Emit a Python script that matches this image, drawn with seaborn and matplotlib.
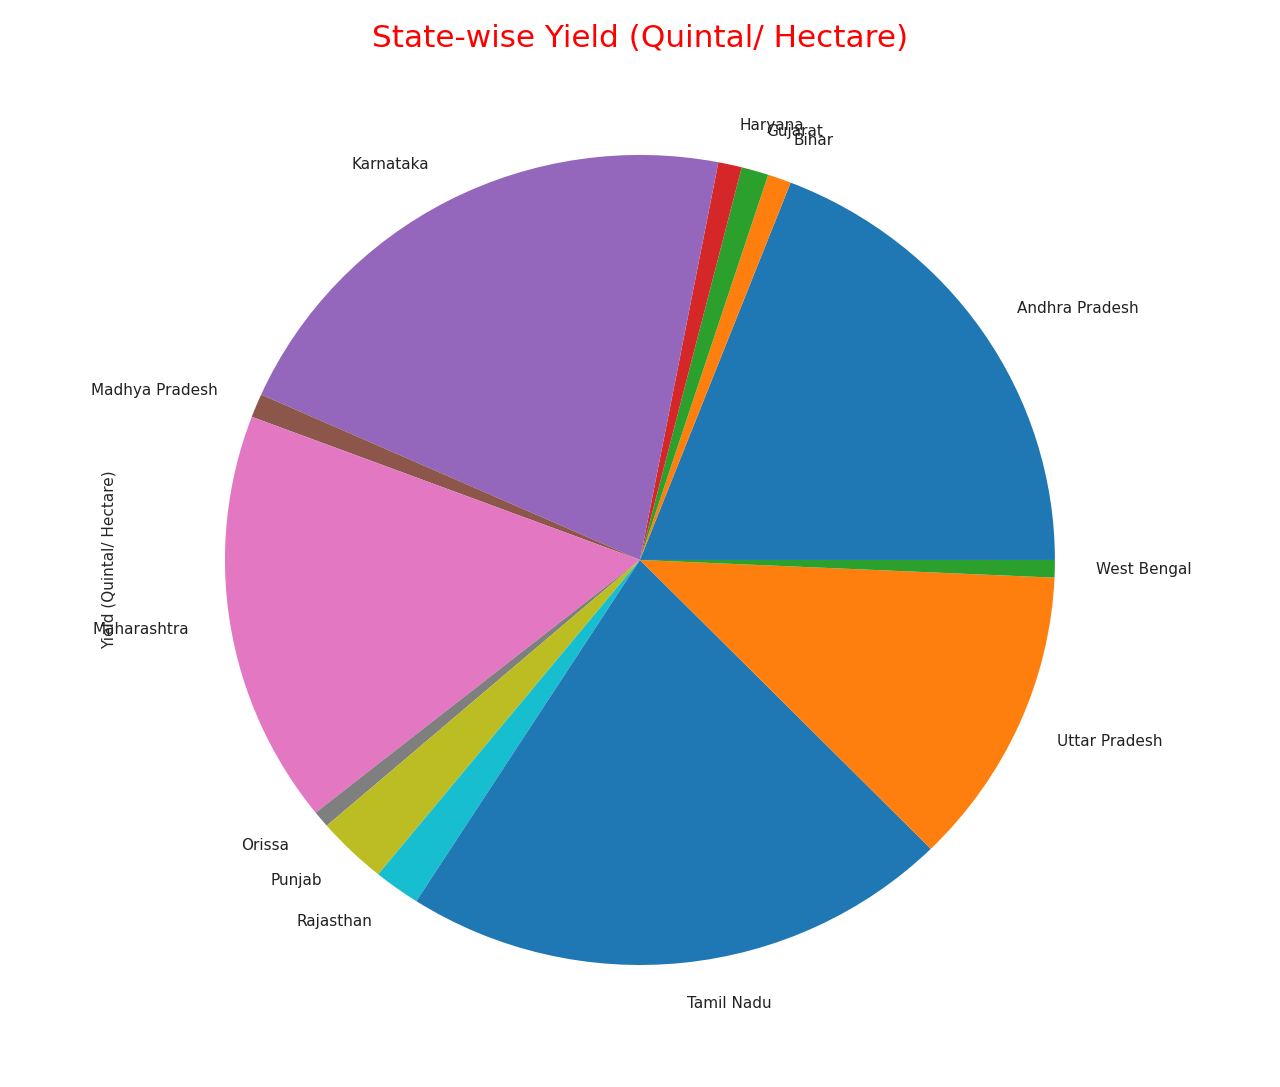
import matplotlib
matplotlib.use("Agg")
import matplotlib.pyplot as plt
import seaborn as sns
import pandas as pd

# yield per state
states = ["Andhra Pradesh", "Bihar", "Gujarat", "Haryana", "Karnataka",
          "Madhya Pradesh", "Maharashtra", "Orissa", "Punjab", "Rajasthan",
          "Tamil Nadu", "Uttar Pradesh", "West Bengal"]
yield_qh = [68.7, 3.3, 3.8, 3.3, 76.8, 3.4, 59.3, 2.4, 9.9, 6.5, 77.1, 43.0, 2.5]

df = pd.DataFrame({"Yield (Quintal/ Hectare)": yield_qh}, index=states)

sns.set_style("white")
plt.rcParams['font.family'] = ['DejaVu Sans']
colors = sns.color_palette("tab10", 10)

fig = plt.figure(figsize=(12.8, 10.87), dpi=100)
ax = fig.add_axes([0.0947, 0.0191, 0.8105, 0.9315])
ax.pie(df["Yield (Quintal/ Hectare)"], labels=df.index, colors=colors,
       startangle=0, counterclock=True, labeldistance=1.1,
       wedgeprops={"linewidth": 0, "edgecolor": "none"},
       textprops={"fontsize": 11, "color": "#222222"})
ax.set_aspect("auto")
ax.set_xlim(-1.25, 1.25)
ax.set_ylim(-1.25, 1.25)
ax.set_ylabel("Yield (Quintal/ Hectare)", fontsize=11, labelpad=3)
ax.set_title("State-wise Yield (Quintal/ Hectare)", color="red", fontsize=22.4, pad=5)

fig.savefig("out.png", dpi=100, facecolor="white")
